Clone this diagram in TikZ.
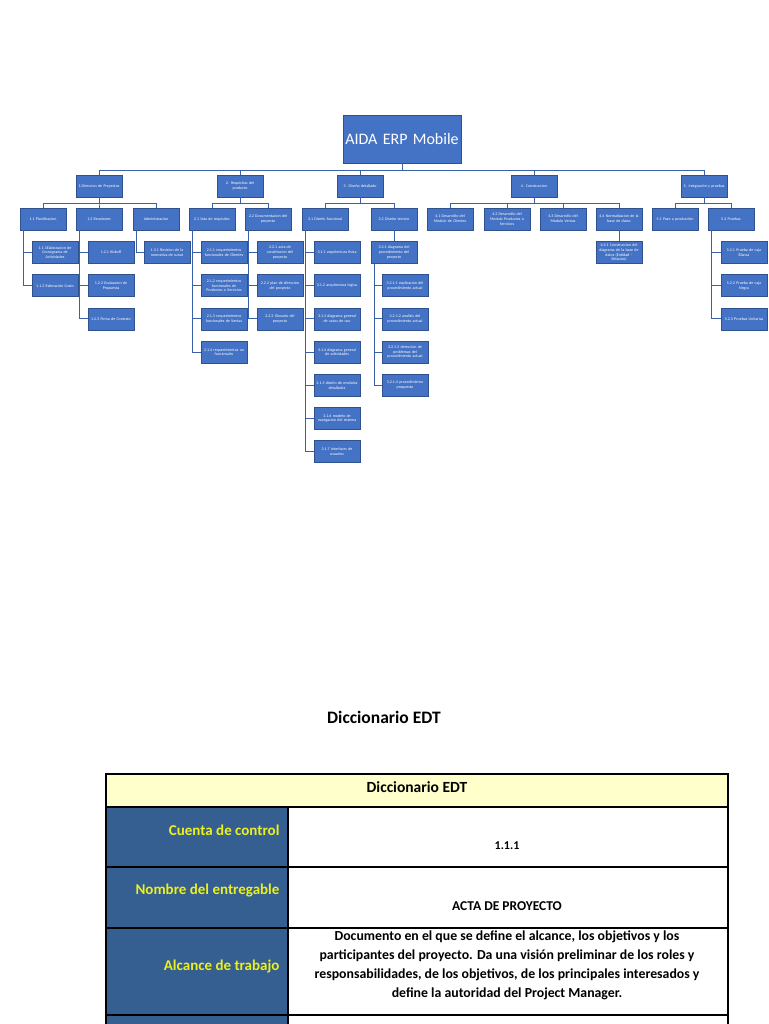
\documentclass[tikz,border=0pt]{standalone}
\usepackage{fontspec}
\setmainfont{Carlito}
\definecolor{boxblue}{RGB}{68,114,196}
\definecolor{boxedge}{RGB}{47,82,143}
\definecolor{celblue}{RGB}{54,95,145}
\definecolor{hdryellow}{RGB}{255,255,204}
\definecolor{lblyellow}{RGB}{236,240,30}
\tikzset{
  wbs/.style={draw=boxedge, line width=0.5pt, fill=boxblue, text=white,
    minimum width=46, minimum height=22, text width=44, inner xsep=1pt, inner ysep=1pt,
    align=center, font=\fontsize{4}{4.8}\selectfont},
  link/.style={draw=boxblue!85!black, line width=1pt},
  tabline/.style={line width=1.6pt},
  lbl/.style={anchor=east, text=lblyellow, font=\fontsize{15}{18}\selectfont\bfseries},
}

\begin{document}
\hyphenpenalty=10000
\begin{tikzpicture}[x=1pt, y=-1pt]
  \useasboundingbox (0,0) rectangle (768,1024);
  % Root of the WBS
  \node[wbs, minimum width=118, minimum height=48, text width=114,
    font=\fontsize{16}{19}\selectfont] (root) at (402,139) {AIDA ERP Mobile};
  % First level
  \node[wbs] (n1) at (99,186) {1.Direccion de Proyectos};
  \node[wbs] (n2) at (240,186) {2. Requisitos del\\producto};
  \node[wbs] (n3) at (360,186) {3. Diseño detallado};
  \node[wbs] (n4) at (534,186) {4. Construccion};
  \node[wbs] (n5) at (704,186) {5. Integración y pruebas};
  \foreach \k in {1,...,5}
    \draw[link] (root.south) -- ++(0,7) -| (n\k.north);

  % Second level
  \node[wbs] (n11) at (43,219) {1.1 Planificacion};
  \node[wbs] (n12) at (99,219) {1.2 Reuniones};
  \node[wbs] (n13) at (156,219) {Administracion};
  \node[wbs] (n21) at (212,219) {2.1 lista de requisitos};
  \node[wbs] (n22) at (268,219) {2.2 Documentacion del\\proyecto};
  \node[wbs] (n31) at (325,219) {3.1 Diseño funcional};
  \node[wbs] (n32) at (394,219) {3.2 Diseño tecnico};
  \node[wbs] (n41) at (450,219) {4.1 Desarrollo del\\Modulo de Clientes};
  \node[wbs] (n42) at (507,219) {4.2 Desarrollo del\\Modulo Productos o\\Servicios};
  \node[wbs] (n43) at (563,219) {4.3 Desarrollo del\\Modulo Ventas};
  \node[wbs] (n44) at (619,219) {4.4 Normalizacion de la\\base de datos};
  \node[wbs] (n51) at (675,219) {5.1 Pase a producción};
  \node[wbs] (n52) at (731,219) {5.2 Pruebas};
  \foreach \p/\q in {1/11,1/12,1/13,2/21,2/22,3/31,3/32,4/41,4/42,4/43,4/44,5/51,5/52}
    \draw[link] (n\p.south) -- ++(0,6) -| (n\q.north);

  % Third level: lists hanging from the left side of their parent
  \foreach \t [count=\i] in {{1.1.1Elaboracion de\\Cronograma de\\Actividades},{1.1.2 Estimación Costo}} {
    \node[wbs] (n11-\i) at (55,{252.5+33.2*(\i-1)}) {\t};
    \draw[link] ([xshift=4]n11.south west) |- (n11-\i.west);
  }
  \foreach \t [count=\i] in {{1.2.1 Kickoff},{1.2.2 Evaluacion de\\Propuesta},{1.2.3 Firma de Contrato}} {
    \node[wbs] (n12-\i) at (111,{252.5+33.2*(\i-1)}) {\t};
    \draw[link] ([xshift=4]n12.south west) |- (n12-\i.west);
  }
  \node[wbs] (n13-1) at (167,252.5) {1.3.1 Revision de la\\normativa de sunat};
  \draw[link] ([xshift=4]n13.south west) |- (n13-1.west);
  \foreach \t [count=\i] in {{2.1.1 requerimientos\\funcionales de Clientes},
      {2.1.2 requerimientos\\funcionales de\\Productos o Servicios},
      {2.1.3 requerimientos\\funcionales de Ventas},{2.1.4 requerimientos no\\funcionales}} {
    \node[wbs] (n21-\i) at (224,{252.5+33.2*(\i-1)}) {\t};
    \draw[link] ([xshift=4]n21.south west) |- (n21-\i.west);
  }
  \foreach \t [count=\i] in {{2.2.1 acta de\\constitucion del\\proyecto},
      {2.2.2 plan de direccion\\del proyecto},{2.2.3 Glosario del\\proyecto}} {
    \node[wbs] (n22-\i) at (280,{252.5+33.2*(\i-1)}) {\t};
    \draw[link] ([xshift=4]n22.south west) |- (n22-\i.west);
  }
  \foreach \t [count=\i] in {{3.1.1 arquitectura fisica},{3.1.2 arquitectura logica},
      {3.1.3 diagrama general\\de casos de uso},{3.1.4 diagrama general\\de actividades},
      {3.1.5 diseño de modulos\\detallados},{3.1.6 modelo de\\navegacion del sistema},
      {3.1.7 interfaces de\\usuarios}} {
    \node[wbs] (n31-\i) at (337,{252.5+33.2*(\i-1)}) {\t};
    \draw[link] ([xshift=4]n31.south west) |- (n31-\i.west);
  }
  \node[wbs] (n32-1) at (394,252.5) {3.2.1 diagrama del\\procedimiento del\\proyecto};
  \draw[link] (n32.south) -- (n32-1.north);
  \foreach \t [count=\i from 2] in {{3.2.1.1 explicacion del\\procedimiento actual},
      {3.2.1.2 analisis del\\procedimiento actual},
      {3.2.1.3 deteccion de\\problemas del\\procedimiento actual},
      {3.2.1.4 procedimiento\\propuesto}} {
    \node[wbs] (n321-\i) at (405,{252.5+33.2*(\i-1)}) {\t};
    \draw[link] ([xshift=4]n32-1.south west) |- (n321-\i.west);
  }
  \node[wbs] (n44-1) at (619,252.5) {4.4.1 Construccion del\\diagrama de la base de\\datos (Entidad –\\Relacion)};
  \draw[link] (n44.south) -- (n44-1.north);
  \foreach \t [count=\i] in {{5.2.1 Prueba de caja\\Blanca},{5.2.2 Prueba de caja\\Negra},
      {5.2.3 Pruebas Unitarias}} {
    \node[wbs] (n52-\i) at (744,{252.5+33.2*(\i-1)}) {\t};
    \draw[link] ([xshift=4]n52.south west) |- (n52-\i.west);
  }

  % Dictionary table
  \node[font=\fontsize{17.5}{20}\selectfont\bfseries] (title) at (384,717) {Diccionario EDT};
  \fill[hdryellow] (106,774) rectangle (728,807);
  \fill[celblue] (106,807) rectangle (288,1024);
  \draw[tabline] (106,1024) -- (106,774) -- (728,774) -- (728,1024);
  \foreach \y in {807,867,928,1015}
    \draw[tabline] (106,\y) -- (728,\y);
  \draw[tabline] (288,807) -- (288,1024);
  \node[font=\fontsize{15.5}{18}\selectfont\bfseries] (head) at (417,787) {Diccionario EDT};
  \node[lbl] (lab1) at (283,830) {Cuenta de control};
  \node[lbl] (lab2) at (283,890) {Nombre del entregable};
  \node[lbl] (lab3) at (283,966) {Alcance de trabajo};
  \node[font=\fontsize{12}{14}\selectfont\bfseries] (val1) at (507,846) {1.1.1};
  \node[font=\fontsize{13.5}{15}\selectfont\bfseries] (val2) at (507,906) {ACTA DE PROYECTO};
  \node[align=center, font=\fontsize{13.8}{19}\selectfont\bfseries] (val3) at (507,965)
    {Documento en el que se define el alcance, los objetivos y los\\
     participantes del proyecto. Da una visión preliminar de los roles y\\
     responsabilidades, de los objetivos, de los principales interesados y\\
     define la autoridad del Project Manager.};
\end{tikzpicture}
\end{document}
